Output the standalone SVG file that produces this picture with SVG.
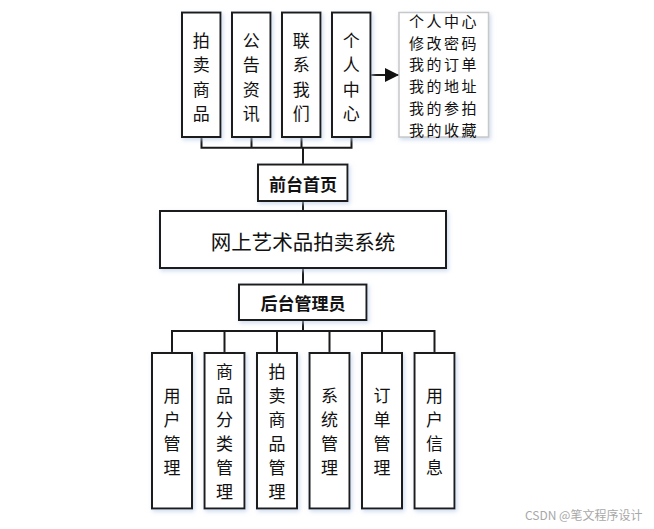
<svg xmlns="http://www.w3.org/2000/svg" width="654" height="529" viewBox="0 0 654 529">
<style>
.box{fill:#fff;stroke:#1a1a1a;stroke-width:2;filter:url(#sh)}
.lt{fill:#fff;stroke:#c8c8c8;stroke-width:1.5;filter:url(#sh)}
.ln{fill:none;stroke:#1a1a1a;stroke-width:2}
.t{font-family:"Noto Sans CJK SC","Noto Sans",sans-serif;fill:#111;dominant-baseline:central;text-anchor:middle}
.v{font-size:17px}
.b{font-weight:bold;font-size:17px}
.l{font-size:15px;letter-spacing:2.5px;text-anchor:start}
</style>
<defs>
<filter id="sh" x="-30%" y="-30%" width="160%" height="160%">
<feDropShadow dx="1.5" dy="2" stdDeviation="2" flood-color="#b8cbe8" flood-opacity="0.7"/>
</filter>
<marker id="ah" markerWidth="15" markerHeight="14" refX="14" refY="7" orient="auto" markerUnits="userSpaceOnUse">
<path d="M0,0 L14,7 L0,14 Z" fill="#111"/>
</marker>
</defs>
<g id="connectors">
<path class="ln" d="M201.5,137 V147.7 H351.5 V137 M251.5,137 V147.7 M301.5,137 V147.7 M303,147.7 V164"/>
<path class="ln" d="M370,75 H399" marker-end="url(#ah)"/>
<path class="ln" d="M303,201 V211 M303,268 V284 M303,320 V331 M172,353 V331 H434.5 V353 M224.5,331 V353 M277,331 V353 M329.5,331 V353 M382,331 V353"/>
</g>
<g id="n-paimai">
<rect class="box" x="182" y="12.5" width="38.5" height="124.5"/>
<text class="t v"><tspan x="201.3" y="38.5">拍</tspan><tspan x="201.3" y="63">卖</tspan><tspan x="201.3" y="87.5">商</tspan><tspan x="201.3" y="112">品</tspan></text>
</g>
<g id="n-gonggao">
<rect class="box" x="232" y="12.5" width="38.5" height="124.5"/>
<text class="t v"><tspan x="251.3" y="38.5">公</tspan><tspan x="251.3" y="63">告</tspan><tspan x="251.3" y="87.5">资</tspan><tspan x="251.3" y="112">讯</tspan></text>
</g>
<g id="n-lianxi">
<rect class="box" x="282" y="12.5" width="38.5" height="124.5"/>
<text class="t v"><tspan x="301.3" y="38.5">联</tspan><tspan x="301.3" y="63">系</tspan><tspan x="301.3" y="87.5">我</tspan><tspan x="301.3" y="112">们</tspan></text>
</g>
<g id="n-geren">
<rect class="box" x="332" y="12.5" width="38.5" height="124.5"/>
<text class="t v"><tspan x="351.3" y="38.5">个</tspan><tspan x="351.3" y="63">人</tspan><tspan x="351.3" y="87.5">中</tspan><tspan x="351.3" y="112">心</tspan></text>
</g>
<g id="n-geren-list">
<rect class="lt" x="399" y="12.5" width="89.5" height="124.5"/>
<text class="t l"><tspan x="409" y="19.5">个人中心</tspan><tspan x="409" y="41.5">修改密码</tspan><tspan x="409" y="63.3">我的订单</tspan><tspan x="409" y="85.2">我的地址</tspan><tspan x="409" y="107.2">我的参拍</tspan><tspan x="409" y="129.2">我的收藏</tspan></text>
</g>
<g id="n-qiantai">
<rect class="box" x="258" y="164.5" width="89.5" height="36.5"/>
<text class="t b" x="303" y="183">前台首页</text>
</g>
<g id="n-system">
<rect class="box" x="160" y="211" width="286" height="57"/>
<text class="t" x="303" y="241" style="font-size:20.5px">网上艺术品拍卖系统</text>
</g>
<g id="n-houtai">
<rect class="box" x="239" y="284.5" width="127.5" height="35.5"/>
<text class="t b" x="303" y="302.5">后台管理员</text>
</g>
<g id="n-yonghu">
<rect class="box" x="152" y="353" width="40" height="155.5"/>
<text class="t v"><tspan x="172" y="393.5">用</tspan><tspan x="172" y="418">户</tspan><tspan x="172" y="442">管</tspan><tspan x="172" y="466">理</tspan></text>
</g>
<g id="n-fenlei">
<rect class="box" x="204.5" y="353" width="40" height="155.5"/>
<text class="t v"><tspan x="224.5" y="369.5">商</tspan><tspan x="224.5" y="393.5">品</tspan><tspan x="224.5" y="418">分</tspan><tspan x="224.5" y="442">类</tspan><tspan x="224.5" y="466">管</tspan><tspan x="224.5" y="490">理</tspan></text>
</g>
<g id="n-paimaigl">
<rect class="box" x="257" y="353" width="40" height="155.5"/>
<text class="t v"><tspan x="277" y="369.5">拍</tspan><tspan x="277" y="393.5">卖</tspan><tspan x="277" y="418">商</tspan><tspan x="277" y="442">品</tspan><tspan x="277" y="466">管</tspan><tspan x="277" y="490">理</tspan></text>
</g>
<g id="n-xitong">
<rect class="box" x="309.5" y="353" width="40" height="155.5"/>
<text class="t v"><tspan x="329.5" y="393.5">系</tspan><tspan x="329.5" y="418">统</tspan><tspan x="329.5" y="442">管</tspan><tspan x="329.5" y="466">理</tspan></text>
</g>
<g id="n-dingdan">
<rect class="box" x="362" y="353" width="40" height="155.5"/>
<text class="t v"><tspan x="382" y="393.5">订</tspan><tspan x="382" y="418">单</tspan><tspan x="382" y="442">管</tspan><tspan x="382" y="466">理</tspan></text>
</g>
<g id="n-xinxi">
<rect class="box" x="414.5" y="353" width="40" height="155.5"/>
<text class="t v"><tspan x="434.5" y="393.5">用</tspan><tspan x="434.5" y="418">户</tspan><tspan x="434.5" y="442">信</tspan><tspan x="434.5" y="466">息</tspan></text>
</g>
<text x="525" y="520" style="font-family:'Noto Sans CJK SC','Noto Sans',sans-serif;font-size:12px;fill:#a8a8a8">CSDN @笔文程序设计</text>
</svg>
